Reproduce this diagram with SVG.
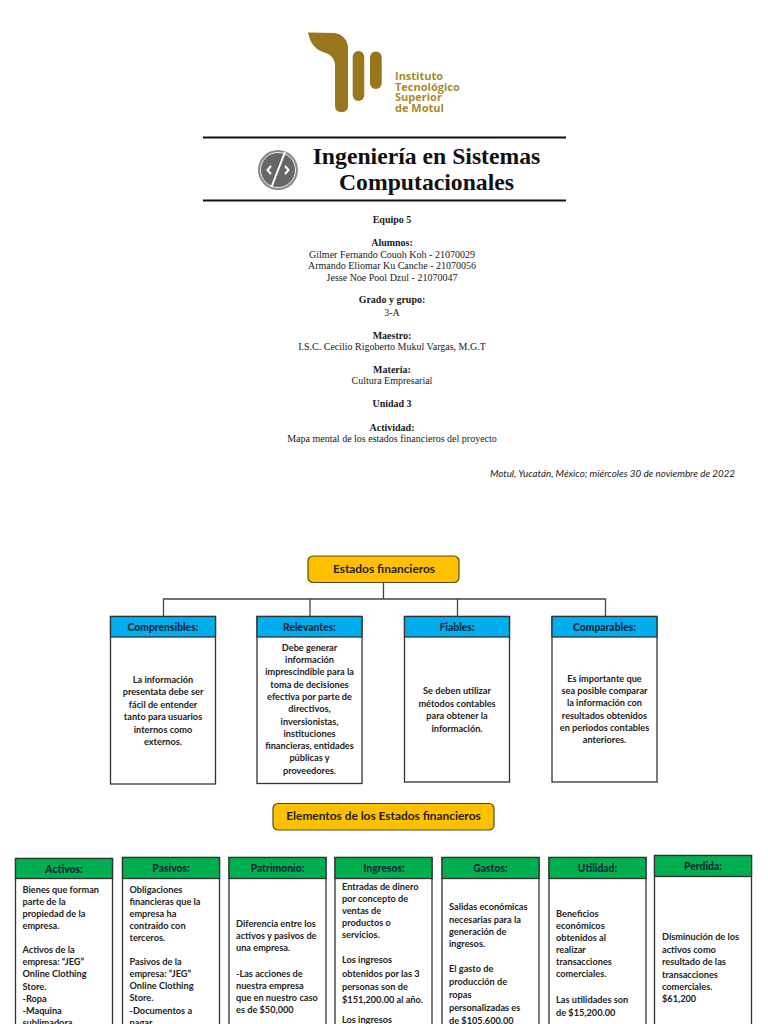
<svg xmlns="http://www.w3.org/2000/svg" width="768" height="1024" viewBox="0 0 768 1024">
<style>
.s{font-family:"Liberation Serif",serif;font-size:10px;fill:#1a1a1a;text-anchor:middle}
.b{font-weight:bold}
.t{font-family:"Liberation Serif",serif;font-size:23.700px;font-weight:bold;fill:#111;text-anchor:middle}
.c{font-family:Lato,"Liberation Sans",sans-serif;font-size:9.200px;font-weight:700;fill:#222}
.m{text-anchor:middle}
.h{font-family:Lato,"Liberation Sans",sans-serif;font-size:10.300px;font-weight:900;fill:#10283a;text-anchor:middle}
.y{font-family:Lato,"Liberation Sans",sans-serif;font-size:11.900px;font-weight:700;fill:#222;text-anchor:middle}
.box{fill:#fff;stroke:#333;stroke-width:1.300}
.blue{fill:#00aeef;stroke:#333;stroke-width:1.300}
.green{fill:#00b050;stroke:#333;stroke-width:1.300}
.yel{fill:#ffc000;stroke:#5a4a1a;stroke-width:1.200}
.logo{font-family:"Open Sans","Liberation Sans",sans-serif;font-size:11px;font-weight:700;fill:#a98a2c}
.conn{fill:none;stroke:#444;stroke-width:1.300}
</style>
<rect width="768" height="1024" fill="#fff"/>
<g id="logo">
<path d="M308 32.500L335 33Q346 35 348 46V106Q348 112 341.500 112Q335 112 335 106V66Q335 55 323 52Q311 48 308 32.500Z" fill="#97761c"/>
<rect x="352.700" y="51" width="11.600" height="50" rx="5.800" fill="#97761c"/>
<rect x="370" y="51.500" width="11.700" height="37.500" rx="5.800" fill="#97761c"/>
<text class="logo" x="395" y="79.500">Instituto</text>
<text class="logo" x="395" y="90.500">Tecnológico</text>
<text class="logo" x="395" y="101">Superior</text>
<text class="logo" x="395" y="112">de Motul</text>
</g>
<g id="header">
<line x1="203" y1="137.500" x2="566" y2="137.500" stroke="#111" stroke-width="2"/>
<line x1="203" y1="200.500" x2="566" y2="200.500" stroke="#111" stroke-width="2"/>
<circle cx="278" cy="170" r="20" fill="#8a8a8a"/>
<circle cx="278" cy="170" r="17.500" fill="#666" stroke="#eee" stroke-width="1"/>
<path d="M271 166L267.500 170L271 174M285 166L288.500 170L285 174" fill="none" stroke="#fff" stroke-width="2"/>
<path d="M285 152L271.500 187" fill="none" stroke="#fff" stroke-width="2"/>
<text class="t" x="426.500" y="163.500">Ingeniería en Sistemas</text>
<text class="t" x="426.500" y="190">Computacionales</text>
</g>
<g id="cover">
<text class="s b" x="392" y="222.500">Equipo 5</text>
<text class="s b" x="392" y="245.500">Alumnos:</text>
<text class="s" x="392" y="257.700">Gilmer Fernando Couoh Koh - 21070029</text>
<text class="s" x="392" y="269">Armando Eliomar Ku Canche - 21070056</text>
<text class="s" x="392" y="280.700">Jesse Noe Pool Dzul - 21070047</text>
<text class="s b" x="392" y="303.300">Grado y grupo:</text>
<text class="s" x="392" y="315.500">3-A</text>
<text class="s b" x="392" y="338.700">Maestro:</text>
<text class="s" x="392" y="350">I.S.C. Cecilio Rigoberto Mukul Vargas, M.G.T</text>
<text class="s b" x="392" y="373.300">Materia:</text>
<text class="s" x="392" y="384.300">Cultura Empresarial</text>
<text class="s b" x="392" y="407.300">Unidad 3</text>
<text class="s b" x="392" y="430.700">Actividad:</text>
<text class="s" x="392" y="441.700">Mapa mental de los estados financieros del proyecto</text>
<text x="735" y="477.300" text-anchor="end" font-family="Lato,sans-serif" font-style="italic" font-size="9.780" fill="#222">Motul, Yucatán, México; miércoles 30 de noviembre de 2022</text>
</g>
<g id="connectors">
<path class="conn" d="M383.500 582V599M163.500 616V599H605.500V616M310 599V616M457.500 599V616"/>
</g>
<g id="estados">
<rect class="yel" x="308" y="556" width="151" height="26.500" rx="5"/>
<text class="y" x="384" y="573">Estados financieros</text>
</g>
<g id="comprensibles">
<rect class="box" x="110.500" y="616.500" width="105" height="167.500"/>
<rect class="blue" x="110.500" y="616.500" width="105" height="20.500"/>
<text class="h" x="163" y="630.500">Comprensibles:</text>
<g class="c m"><text x="163" y="682.500">La información</text><text x="163" y="695">presentata debe ser</text><text x="163" y="707.500">fácil de entender</text><text x="163" y="720">tanto para usuarios</text><text x="163" y="732.500">internos como</text><text x="163" y="745">externos.</text></g>
</g>
<g id="relevantes">
<rect class="box" x="257" y="616.500" width="105" height="167"/>
<rect class="blue" x="257" y="616.500" width="105" height="20.500"/>
<text class="h" x="309.500" y="630.500">Relevantes:</text>
<g class="c m"><text x="309.500" y="651">Debe generar</text><text x="309.500" y="663">información</text><text x="309.500" y="675">imprescindible para la</text><text x="309.500" y="687.500">toma de decisiones</text><text x="309.500" y="700">efectiva por parte de</text><text x="309.500" y="712">directivos,</text><text x="309.500" y="724.500">inversionistas,</text><text x="309.500" y="736.500">instituciones</text><text x="309.500" y="749">financieras, entidades</text><text x="309.500" y="761">públicas y</text><text x="309.500" y="773.500">proveedores.</text></g>
</g>
<g id="fiables">
<rect class="box" x="404.500" y="616.500" width="105" height="165.500"/>
<rect class="blue" x="404.500" y="616.500" width="105" height="20.500"/>
<text class="h" x="457" y="630.500">Fiables:</text>
<g class="c m"><text x="457" y="694">Se deben utilizar</text><text x="457" y="707">métodos contables</text><text x="457" y="719">para obtener la</text><text x="457" y="731.500">información.</text></g>
</g>
<g id="comparables">
<rect class="box" x="552" y="616.500" width="105" height="165.500"/>
<rect class="blue" x="552" y="616.500" width="105" height="20.500"/>
<text class="h" x="604.500" y="630.500">Comparables:</text>
<g class="c m"><text x="604.500" y="681.500">Es importante que</text><text x="604.500" y="694">sea posible comparar</text><text x="604.500" y="706">la información con</text><text x="604.500" y="718.500">resultados obtenidos</text><text x="604.500" y="731">en periodos contables</text><text x="604.500" y="743">anteriores.</text></g>
</g>
<g id="elementos">
<rect class="yel" x="273" y="803.500" width="221" height="26.500" rx="5"/>
<text class="y" x="383.500" y="820">Elementos de los Estados financieros</text>
</g>
<g id="activos">
<rect class="box" x="15.500" y="858.500" width="97" height="180"/>
<rect class="green" x="15.500" y="858.500" width="97" height="20"/>
<text class="h" x="64" y="872.500">Activos:</text>
<g class="c"><text x="22.500" y="893">Bienes que forman</text><text x="22.500" y="905">parte de la</text><text x="22.500" y="917">propiedad de la</text><text x="22.500" y="929">empresa.</text><text x="22.500" y="953">Activos de la</text><text x="22.500" y="965">empresa: “JEG”</text><text x="22.500" y="977">Online Clothing</text><text x="22.500" y="990">Store.</text><text x="22.500" y="1002">-Ropa</text><text x="22.500" y="1014">-Maquina</text><text x="22.500" y="1026">sublimadora</text></g>
</g>
<g id="pasivos">
<rect class="box" x="122.500" y="857.500" width="97" height="180"/>
<rect class="green" x="122.500" y="857.500" width="97" height="21"/>
<text class="h" x="171" y="871.500">Pasivos:</text>
<g class="c"><text x="129.500" y="893">Obligaciones</text><text x="129.500" y="905">financieras que la</text><text x="129.500" y="917">empresa ha</text><text x="129.500" y="929">contraído con</text><text x="129.500" y="941">terceros.</text><text x="129.500" y="965">Pasivos de la</text><text x="129.500" y="977">empresa: “JEG”</text><text x="129.500" y="989">Online Clothing</text><text x="129.500" y="1001">Store.</text><text x="129.500" y="1014">-Documentos a</text><text x="129.500" y="1026">pagar</text></g>
</g>
<g id="patrimonio">
<rect class="box" x="229" y="857.500" width="97" height="180"/>
<rect class="green" x="229" y="857.500" width="97" height="21"/>
<text class="h" x="277.500" y="871.500">Patrimonio:</text>
<g class="c"><text x="236" y="927">Diferencia entre los</text><text x="236" y="939">activos y pasivos de</text><text x="236" y="951">una empresa.</text><text x="236" y="977">-Las acciones de</text><text x="236" y="989">nuestra empresa</text><text x="236" y="1001">que en nuestro caso</text><text x="236" y="1013">es de $50,000</text></g>
</g>
<g id="ingresos">
<rect class="box" x="335" y="857.500" width="97" height="180"/>
<rect class="green" x="335" y="857.500" width="97" height="21"/>
<text class="h" x="384" y="871.500">Ingresos:</text>
<g class="c"><text x="342" y="890">Entradas de dinero</text><text x="342" y="902">por concepto de</text><text x="342" y="914">ventas de</text><text x="342" y="926">productos o</text><text x="342" y="938">servicios.</text><text x="342" y="963">Los ingresos</text><text x="342" y="977">obtenidos por las 3</text><text x="342" y="990">personas son de</text><text x="342" y="1003">$151,200.00 al año.</text><text x="342" y="1023">Los ingresos</text></g>
</g>
<g id="gastos">
<rect class="box" x="442" y="857.500" width="97" height="180"/>
<rect class="green" x="442" y="857.500" width="97" height="21"/>
<text class="h" x="490.500" y="871.500">Gastos:</text>
<g class="c"><text x="449" y="910">Salidas económicas</text><text x="449" y="923">necesarias para la</text><text x="449" y="935">generación de</text><text x="449" y="947">ingresos.</text><text x="449" y="972">El gasto de</text><text x="449" y="985">producción de</text><text x="449" y="998">ropas</text><text x="449" y="1011">personalizadas es</text><text x="449" y="1024">de $105,600.00</text></g>
</g>
<g id="utilidad">
<rect class="box" x="549" y="857.500" width="97" height="180"/>
<rect class="green" x="549" y="857.500" width="97" height="21"/>
<text class="h" x="597.500" y="871.500">Utilidad:</text>
<g class="c"><text x="556" y="917">Beneficios</text><text x="556" y="929">económicos</text><text x="556" y="941">obtenidos al</text><text x="556" y="953">realizar</text><text x="556" y="965">transacciones</text><text x="556" y="977">comerciales.</text><text x="556" y="1003">Las utilidades son</text><text x="556" y="1016">de $15,200.00</text></g>
</g>
<g id="perdida">
<rect class="box" x="654.500" y="855.500" width="97" height="180"/>
<rect class="green" x="654.500" y="855.500" width="97" height="21"/>
<text class="h" x="703" y="869.500">Perdida:</text>
<g class="c"><text x="662" y="940">Disminución de los</text><text x="662" y="952.500">activos como</text><text x="662" y="965">resultado de las</text><text x="662" y="977.500">transacciones</text><text x="662" y="990">comerciales.</text><text x="662" y="1002">$61,200</text></g>
</g>
</svg>
